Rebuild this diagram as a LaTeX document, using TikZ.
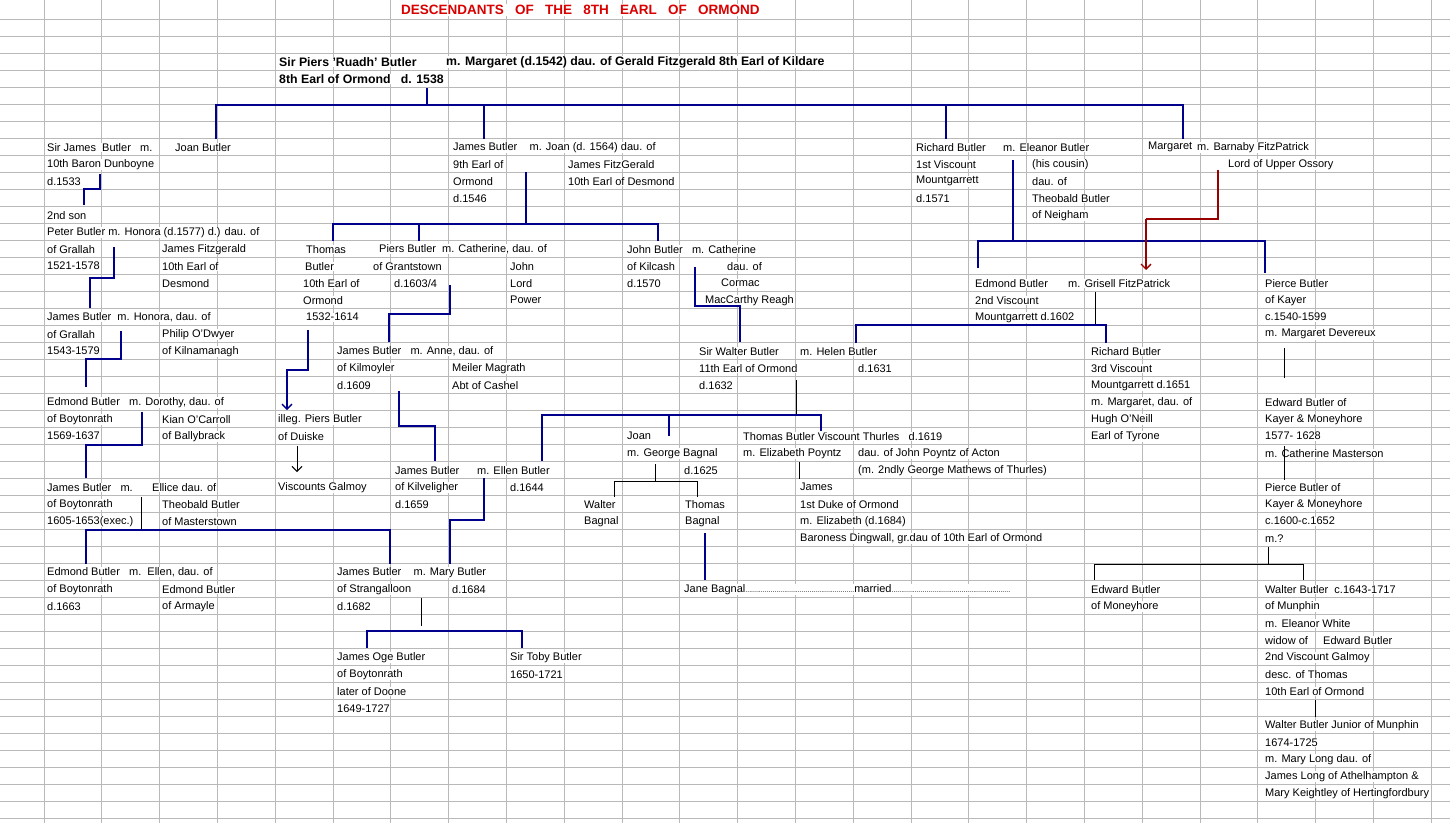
\documentclass[tikz,border=0pt]{standalone}
\usepackage{fontspec}
\setmainfont{Liberation Sans}
\usetikzlibrary{arrows.meta}
\newcounter{tn}
\newcommand\T[3]{\stepcounter{tn}\node[txt] (t\thetn) at (#1,{11.2+17*#2}) {#3};}
\begin{document}
\begin{tikzpicture}[x=1pt,y=-1pt,
  txt/.style={anchor=west,inner xsep=0pt,inner ysep=0.5pt,fill=white,font=\fontsize{11}{12}\selectfont},
  hd/.style={txt,font=\bfseries\fontsize{12.3}{13}\selectfont},
  ln/.style={draw=blue!55!black,line width=1.3pt},
  bl/.style={draw=black,line width=1pt},
  rd/.style={draw=red!60!black,line width=1.3pt}]
\useasboundingbox (0,0) rectangle (1450,823);
\fill[white] (0,0) rectangle (1450,823);
\foreach \k in {0,...,24} \draw[gray!55,line width=0.8pt] ({44+57.8*\k},0) -- ({44+57.8*\k},823);
\foreach \k in {1,...,48} \draw[gray!55,line width=0.8pt] (0,{2.7+17*\k}) -- (1450,{2.7+17*\k});
\node[anchor=west,inner sep=1pt,fill=white,text=red!85!black,font=\bfseries\fontsize{13.5}{14}\selectfont] (title) at (400,10) {DESCENDANTS\ \ \ OF\ \ \ THE\ \ \ 8TH\ \ \ EARL\ \ \ OF\ \ \ ORMOND};
\node[hd] (h1) at (279,62) {Sir Piers 'Ruadh' Butler};
\node[hd] (h2) at (446,62) {m. Margaret (d.1542) dau. of Gerald Fitzgerald 8th Earl of Kildare};
\node[hd] (h3) at (279,79) {8th Earl of Ormond\ \ \ d. 1538};
% texts
\T{47}{8}{Sir James\ \ Butler\ \ \ m.}\T{175}{8}{Joan Butler}\T{453}{8}{James Butler\ \ \ \ m. Joan (d. 1564) dau. of}
\T{916}{8}{Richard Butler}\T{1003}{8}{m. Eleanor Butler}\T{1148}{8}{Margaret}\T{1197}{8}{m. Barnaby FitzPatrick}
\T{47}{9}{10th Baron Dunboyne}\T{453}{9}{9th Earl of}\T{568}{9}{James FitzGerald}\T{916}{9}{1st Viscount}\T{1032}{9}{(his cousin)}\T{1228}{9}{Lord of Upper Ossory}
\T{47}{10}{d.1533}\T{453}{10}{Ormond}\T{568}{10}{10th Earl of Desmond}\T{916}{10}{Mountgarrett}\T{1032}{10}{dau. of}
\T{453}{11}{d.1546}\T{916}{11}{d.1571}\T{1032}{11}{Theobald Butler}
\T{47}{12}{2nd son}\T{1032}{12}{of Neigham}
\T{47}{13}{Peter Butler m. Honora (d.1577) d.) dau. of}
\T{47}{14}{of Grallah}\T{162}{14}{James Fitzgerald}\T{306}{14}{Thomas}\T{379}{14}{Piers Butler\ \ m. Catherine, dau. of}\T{627}{14}{John Butler\ \ \ m. Catherine}
\T{47}{15}{1521-1578}\T{162}{15}{10th Earl of}\T{305}{15}{Butler}\T{373}{15}{of Grantstown}\T{510}{15}{John}\T{627}{15}{of Kilcash}\T{727}{15}{dau. of}
\T{162}{16}{Desmond}\T{303}{16}{10th Earl of}\T{394}{16}{d.1603/4}\T{510}{16}{Lord}\T{627}{16}{d.1570}\T{721}{16}{Cormac}\T{975}{16}{Edmond Butler}\T{1068}{16}{m. Grisell FitzPatrick}\T{1265}{16}{Pierce Butler}
\T{303}{17}{Ormond}\T{510}{17}{Power}\T{705}{17}{MacCarthy Reagh}\T{975}{17}{2nd Viscount}\T{1265}{17}{of Kayer}
\T{47}{18}{James Butler\ \ m. Honora, dau. of}\T{306}{18}{1532-1614}\T{975}{18}{Mountgarrett d.1602}\T{1265}{18}{c.1540-1599}
\T{47}{19}{of Grallah}\T{162}{19}{Philip O'Dwyer}\T{1265}{19}{m. Margaret Devereux}
\T{47}{20}{1543-1579}\T{162}{20}{of Kilnamanagh}\T{337}{20}{James Butler\ \ \ m. Anne, dau. of}\T{699}{20}{Sir Walter Butler}\T{800}{20}{m. Helen Butler}\T{1091}{20}{Richard Butler}
\T{337}{21}{of Kilmoyler}\T{452}{21}{Meiler Magrath}\T{699}{21}{11th Earl of Ormond}\T{858}{21}{d.1631}\T{1091}{21}{3rd Viscount}
\T{337}{22}{d.1609}\T{452}{22}{Abt of Cashel}\T{699}{22}{d.1632}\T{1091}{22}{Mountgarrett d.1651}
\T{47}{23}{Edmond Butler\ \ \ m. Dorothy, dau. of}\T{1091}{23}{m. Margaret, dau. of}\T{1265}{23}{Edward Butler of}
\T{47}{24}{of Boytonrath}\T{162}{24}{Kian O'Carroll}\T{278}{24}{illeg. Piers Butler}\T{1091}{24}{Hugh O'Neill}\T{1265}{24}{Kayer \& Moneyhore}
\T{47}{25}{1569-1637}\T{162}{25}{of Ballybrack}\T{278}{25}{of Duiske}\T{627}{25}{Joan}\T{743}{25}{Thomas Butler Viscount Thurles\ \ \ d.1619}\T{1091}{25}{Earl of Tyrone}\T{1265}{25}{1577- 1628}
\T{627}{26}{m. George Bagnal}\T{743}{26}{m. Elizabeth Poyntz}\T{858}{26}{dau. of John Poyntz of Acton}\T{1265}{26}{m. Catherine Masterson}
\T{395}{27}{James Butler}\T{477}{27}{m. Ellen Butler}\T{684}{27}{d.1625}\T{858}{27}{(m. 2ndly George Mathews of Thurles)}
\T{47}{28}{James Butler\ \ \ m.}\T{152}{28}{Ellice dau. of}\T{278}{28}{Viscounts Galmoy}\T{395}{28}{of Kilveligher}\T{510}{28}{d.1644}\T{800}{28}{James}\T{1265}{28}{Pierce Butler of}
\T{47}{29}{of Boytonrath}\T{162}{29}{Theobald Butler}\T{395}{29}{d.1659}\T{584}{29}{Walter}\T{685}{29}{Thomas}\T{800}{29}{1st Duke of Ormond}\T{1265}{29}{Kayer \& Moneyhore}
\T{47}{30}{1605-1653(exec.)}\T{162}{30}{of Masterstown}\T{584}{30}{Bagnal}\T{685}{30}{Bagnal}\T{800}{30}{m. Elizabeth (d.1684)}\T{1265}{30}{c.1600-c.1652}
\T{800}{31}{Baroness Dingwall, gr.dau of 10th Earl of Ormond}\T{1265}{31}{m.?}
\T{47}{33}{Edmond Butler\ \ \ m.\ \ Ellen, dau. of}\T{337}{33}{James Butler\ \ \ \ m. Mary Butler}
\T{47}{34}{of Boytonrath}\T{162}{34}{Edmond Butler}\T{337}{34}{of Strangalloon}\T{452}{34}{d.1684}\T{684}{34}{Jane Bagnal{\fontsize{7}{8}\selectfont ........................................................}married{\fontsize{7}{8}\selectfont .............................................................}}\T{1091}{34}{Edward Butler}\T{1265}{34}{Walter Butler\ \ c.1643-1717}
\T{47}{35}{d.1663}\T{162}{35}{of Armayle}\T{337}{35}{d.1682}\T{1091}{35}{of Moneyhore}\T{1265}{35}{of Munphin}
\T{1265}{36}{m. Eleanor White}
\T{1265}{37}{widow of}\T{1323}{37}{Edward Butler}
\T{337}{38}{James Oge Butler}\T{510}{38}{Sir Toby Butler}\T{1265}{38}{2nd Viscount Galmoy}
\T{337}{39}{of Boytonrath}\T{510}{39}{1650-1721}\T{1265}{39}{desc. of Thomas}
\T{337}{40}{later of Doone}\T{1265}{40}{10th Earl of Ormond}
\T{337}{41}{1649-1727}
\T{1265}{42}{Walter Butler Junior of Munphin}
\T{1265}{43}{1674-1725}
\T{1265}{44}{m. Mary Long dau. of}
\T{1265}{45}{James Long of Athelhampton \&}
\T{1265}{46}{Mary Keightley of Hertingfordbury}
% connectors
\draw[ln] (427,88) -- (427,105);
\draw[ln] (216,139) -- (216,105) -- (1183,105) -- (1183,139);
\draw[ln] (484,105) -- (484,139); \draw[ln] (946,105) -- (946,139);
\draw[ln] (100,174) -- (100,189) -- (84,189) -- (84,205);
\draw[ln] (526,172) -- (526,224);
\draw[ln] (333,241) -- (333,224) -- (658,224) -- (658,241); \draw[ln] (419,224) -- (419,241);
\draw[ln] (114,247) -- (114,278) -- (90,278) -- (90,308);
\draw[ln] (121,331) -- (121,359) -- (86,359) -- (86,387);
\draw[ln] (142,412) -- (142,445) -- (86,445) -- (86,478);
\draw[ln,-{Straight Barb[length=5pt]}] (308,330) -- (308,370) -- (287,370) -- (287,410);
\draw[bl,-{Straight Barb[length=5pt]}] (297,446) -- (297,472);
\draw[ln] (450,285) -- (450,314) -- (389,314) -- (389,342);
\draw[ln] (399,391) -- (399,426) -- (435,426) -- (435,461);
\draw[ln] (695,267) -- (695,306) -- (740,306) -- (740,342);
\draw[bl] (796,380) -- (796,415);
\draw[ln] (542,461) -- (542,415) -- (821,415) -- (821,431); \draw[ln] (669,415) -- (669,436);
\draw[bl] (655,464) -- (655,481); \draw[bl] (614,497) -- (614,481) -- (697,481) -- (697,497);
\draw[bl] (799,462) -- (799,479);
\draw[ln] (705,533) -- (705,580);
\draw[ln] (484,478) -- (484,520) -- (450,520) -- (450,564);
\draw[bl] (141,497) -- (141,530); \draw[ln] (86,564) -- (86,530) -- (390,530) -- (390,564);
\draw[bl] (421,598) -- (421,626); \draw[ln] (367,648) -- (367,631) -- (522,631) -- (522,648);
\draw[ln] (1013,160) -- (1013,241); \draw[ln] (978,268) -- (978,241) -- (1265,241) -- (1265,273);
\draw[rd] (1218,170) -- (1218,219) -- (1146,219); \draw[rd,-{Straight Barb[length=5pt]}] (1146,219) -- (1146,270);
\draw[bl] (1095,292) -- (1095,325); \draw[ln] (856,343) -- (856,325) -- (1106,325) -- (1106,343);
\draw[bl] (1284,348) -- (1284,378); \draw[bl] (1284,446) -- (1284,480);
\draw[bl] (1268,547) -- (1268,564); \draw[bl] (1094,580) -- (1094,564) -- (1303,564) -- (1303,580);
\draw[bl] (1315,700) -- (1315,717);
\end{tikzpicture}
\end{document}
